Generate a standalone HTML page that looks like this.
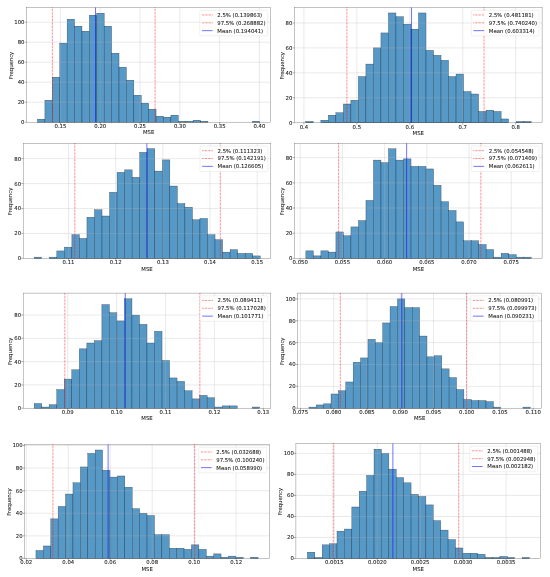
<!DOCTYPE html>
<html><head><meta charset="utf-8"><title>MSE bootstrap histograms</title>
<style>
html,body{margin:0;padding:0;background:#fff;}
svg{display:block;}
text{font-family:"DejaVu Sans","Liberation Sans",sans-serif;font-size:5.33px;fill:#1a1a1a;text-rendering:geometricPrecision;stroke:#1a1a1a;stroke-width:0.07px;}
</style></head><body>
<svg width="550" height="577" viewBox="0 0 550 577">
<defs><filter id="tb" x="0" y="0" width="550" height="577" filterUnits="userSpaceOnUse"><feGaussianBlur stdDeviation="0.35"/></filter></defs>
<rect width="550" height="577" fill="#fff"/>
<g filter="url(#tb)">
<g>
<g fill="#5799c7" stroke="#06121c" stroke-width="0.4" stroke-opacity="0.68">
<rect x="37.5" y="119.2" width="7.41" height="3"/>
<rect x="44.91" y="100.2" width="7.41" height="22"/>
<rect x="52.32" y="77.2" width="7.41" height="45"/>
<rect x="59.73" y="43.2" width="7.41" height="79"/>
<rect x="67.14" y="19.2" width="7.41" height="103"/>
<rect x="74.55" y="26.2" width="7.41" height="96"/>
<rect x="81.96" y="31.2" width="7.41" height="91"/>
<rect x="89.37" y="15.2" width="7.41" height="107"/>
<rect x="96.78" y="13.2" width="7.41" height="109"/>
<rect x="104.19" y="26.2" width="7.41" height="96"/>
<rect x="111.6" y="53.2" width="7.41" height="69"/>
<rect x="119.01" y="67.2" width="7.41" height="55"/>
<rect x="126.42" y="80.2" width="7.41" height="42"/>
<rect x="133.83" y="95.2" width="7.41" height="27"/>
<rect x="141.24" y="103.2" width="7.41" height="19"/>
<rect x="148.65" y="109.2" width="7.41" height="13"/>
<rect x="156.06" y="116.2" width="7.41" height="6"/>
<rect x="163.47" y="117.2" width="7.41" height="5"/>
<rect x="170.88" y="115.2" width="7.41" height="7"/>
<rect x="178.29" y="121.2" width="7.41" height="1"/>
<rect x="185.7" y="121.2" width="7.41" height="1"/>
<rect x="193.11" y="120.2" width="7.41" height="2"/>
<rect x="200.52" y="121.2" width="7.41" height="1"/>
<rect x="252.39" y="121.2" width="7.41" height="1"/>
</g>
<g stroke="#b0b0b0" stroke-width="0.45" stroke-opacity="0.6">
<line x1="60.45" y1="7.6" x2="60.45" y2="122.2"/>
<line x1="100.25" y1="7.6" x2="100.25" y2="122.2"/>
<line x1="140.05" y1="7.6" x2="140.05" y2="122.2"/>
<line x1="179.85" y1="7.6" x2="179.85" y2="122.2"/>
<line x1="219.65" y1="7.6" x2="219.65" y2="122.2"/>
<line x1="259.45" y1="7.6" x2="259.45" y2="122.2"/>
<line x1="26.6" y1="102.2" x2="270.6" y2="102.2"/>
<line x1="26.6" y1="82.2" x2="270.6" y2="82.2"/>
<line x1="26.6" y1="62.2" x2="270.6" y2="62.2"/>
<line x1="26.6" y1="42.2" x2="270.6" y2="42.2"/>
<line x1="26.6" y1="22.2" x2="270.6" y2="22.2"/>
</g>
<line x1="52.38" y1="7.6" x2="52.38" y2="122.2" stroke="#ff0000" stroke-width="0.72" stroke-dasharray="0.62 0.8" stroke-opacity="1"/>
<line x1="155.08" y1="7.6" x2="155.08" y2="122.2" stroke="#ff0000" stroke-width="0.72" stroke-dasharray="0.62 0.8" stroke-opacity="1"/>
<line x1="95.51" y1="7.6" x2="95.51" y2="122.2" stroke="#0000ff" stroke-width="1.0" stroke-opacity="0.55"/>
<rect x="26.6" y="7.6" width="244" height="114.6" fill="none" stroke="#000" stroke-opacity="0.55" stroke-width="0.43"/>
<g stroke="#333" stroke-width="0.4">
<line x1="60.45" y1="122.2" x2="60.45" y2="124.1"/>
<line x1="100.25" y1="122.2" x2="100.25" y2="124.1"/>
<line x1="140.05" y1="122.2" x2="140.05" y2="124.1"/>
<line x1="179.85" y1="122.2" x2="179.85" y2="124.1"/>
<line x1="219.65" y1="122.2" x2="219.65" y2="124.1"/>
<line x1="259.45" y1="122.2" x2="259.45" y2="124.1"/>
<line x1="24.7" y1="122.2" x2="26.6" y2="122.2"/>
<line x1="24.7" y1="102.2" x2="26.6" y2="102.2"/>
<line x1="24.7" y1="82.2" x2="26.6" y2="82.2"/>
<line x1="24.7" y1="62.2" x2="26.6" y2="62.2"/>
<line x1="24.7" y1="42.2" x2="26.6" y2="42.2"/>
<line x1="24.7" y1="22.2" x2="26.6" y2="22.2"/>
</g>
<rect x="199.75" y="10.35" width="67.9" height="25.5" rx="1" fill="#fff" fill-opacity="0.8" stroke="#ccc" stroke-opacity="0.7" stroke-width="0.4"/>
<line x1="201.95" y1="14.95" x2="212.65" y2="14.95" stroke="#ff0000" stroke-dasharray="0.62 0.8" stroke-width="0.72" stroke-opacity="1"/>
<line x1="201.95" y1="22.8" x2="212.65" y2="22.8" stroke="#ff0000" stroke-dasharray="0.62 0.8" stroke-width="0.72" stroke-opacity="1"/>
<line x1="201.95" y1="30.65" x2="212.65" y2="30.65" stroke="#0000ff" stroke-width="1.0" stroke-opacity="0.55"/>
</g>
<g>
<g fill="#5799c7" stroke="#06121c" stroke-width="0.4" stroke-opacity="0.68">
<rect x="305.8" y="121.45" width="7.51" height="1.25"/>
<rect x="320.83" y="120.21" width="7.51" height="2.49"/>
<rect x="328.34" y="115.22" width="7.51" height="7.48"/>
<rect x="335.85" y="112.72" width="7.51" height="9.98"/>
<rect x="343.37" y="104" width="7.51" height="18.71"/>
<rect x="350.88" y="100.25" width="7.51" height="22.45"/>
<rect x="358.39" y="76.56" width="7.51" height="46.14"/>
<rect x="365.9" y="64.09" width="7.51" height="58.61"/>
<rect x="373.42" y="47.88" width="7.51" height="74.82"/>
<rect x="380.93" y="32.92" width="7.51" height="89.78"/>
<rect x="388.44" y="12.96" width="7.51" height="109.74"/>
<rect x="395.96" y="16.7" width="7.51" height="106"/>
<rect x="403.47" y="24.19" width="7.51" height="98.51"/>
<rect x="410.98" y="29.17" width="7.51" height="93.53"/>
<rect x="418.5" y="12.96" width="7.51" height="109.74"/>
<rect x="426.01" y="50.37" width="7.51" height="72.33"/>
<rect x="433.52" y="55.36" width="7.51" height="67.34"/>
<rect x="441.03" y="60.35" width="7.51" height="62.35"/>
<rect x="448.55" y="76.56" width="7.51" height="46.14"/>
<rect x="456.06" y="74.07" width="7.51" height="48.63"/>
<rect x="463.57" y="91.53" width="7.51" height="31.18"/>
<rect x="471.09" y="94.02" width="7.51" height="28.68"/>
<rect x="478.6" y="111.48" width="7.51" height="11.22"/>
<rect x="486.11" y="110.23" width="7.51" height="12.47"/>
<rect x="493.62" y="111.48" width="7.51" height="11.22"/>
<rect x="501.14" y="118.96" width="7.51" height="3.74"/>
<rect x="516.16" y="121.45" width="7.51" height="1.25"/>
<rect x="523.68" y="121.45" width="7.51" height="1.25"/>
</g>
<g stroke="#b0b0b0" stroke-width="0.45" stroke-opacity="0.6">
<line x1="303.9" y1="7.6" x2="303.9" y2="122.7"/>
<line x1="356.85" y1="7.6" x2="356.85" y2="122.7"/>
<line x1="409.8" y1="7.6" x2="409.8" y2="122.7"/>
<line x1="462.75" y1="7.6" x2="462.75" y2="122.7"/>
<line x1="515.7" y1="7.6" x2="515.7" y2="122.7"/>
<line x1="294.5" y1="97.76" x2="542.1" y2="97.76"/>
<line x1="294.5" y1="72.82" x2="542.1" y2="72.82"/>
<line x1="294.5" y1="47.88" x2="542.1" y2="47.88"/>
<line x1="294.5" y1="22.94" x2="542.1" y2="22.94"/>
</g>
<line x1="346.89" y1="7.6" x2="346.89" y2="122.7" stroke="#ff0000" stroke-width="0.72" stroke-dasharray="0.62 0.8" stroke-opacity="1"/>
<line x1="484.06" y1="7.6" x2="484.06" y2="122.7" stroke="#ff0000" stroke-width="0.72" stroke-dasharray="0.62 0.8" stroke-opacity="1"/>
<line x1="411.55" y1="7.6" x2="411.55" y2="122.7" stroke="#0000ff" stroke-width="1.0" stroke-opacity="0.55"/>
<rect x="294.5" y="7.6" width="247.6" height="115.1" fill="none" stroke="#000" stroke-opacity="0.55" stroke-width="0.43"/>
<g stroke="#333" stroke-width="0.4">
<line x1="303.9" y1="122.7" x2="303.9" y2="124.6"/>
<line x1="356.85" y1="122.7" x2="356.85" y2="124.6"/>
<line x1="409.8" y1="122.7" x2="409.8" y2="124.6"/>
<line x1="462.75" y1="122.7" x2="462.75" y2="124.6"/>
<line x1="515.7" y1="122.7" x2="515.7" y2="124.6"/>
<line x1="292.6" y1="122.7" x2="294.5" y2="122.7"/>
<line x1="292.6" y1="97.76" x2="294.5" y2="97.76"/>
<line x1="292.6" y1="72.82" x2="294.5" y2="72.82"/>
<line x1="292.6" y1="47.88" x2="294.5" y2="47.88"/>
<line x1="292.6" y1="22.94" x2="294.5" y2="22.94"/>
</g>
<rect x="471.25" y="10.35" width="67.9" height="25.5" rx="1" fill="#fff" fill-opacity="0.8" stroke="#ccc" stroke-opacity="0.7" stroke-width="0.4"/>
<line x1="473.45" y1="14.95" x2="484.15" y2="14.95" stroke="#ff0000" stroke-dasharray="0.62 0.8" stroke-width="0.72" stroke-opacity="1"/>
<line x1="473.45" y1="22.8" x2="484.15" y2="22.8" stroke="#ff0000" stroke-dasharray="0.62 0.8" stroke-width="0.72" stroke-opacity="1"/>
<line x1="473.45" y1="30.65" x2="484.15" y2="30.65" stroke="#0000ff" stroke-width="1.0" stroke-opacity="0.55"/>
</g>
<g>
<g fill="#5799c7" stroke="#06121c" stroke-width="0.4" stroke-opacity="0.68">
<rect x="34.2" y="257.15" width="7.54" height="1.25"/>
<rect x="49.27" y="257.15" width="7.54" height="1.25"/>
<rect x="56.81" y="250.92" width="7.54" height="7.48"/>
<rect x="64.34" y="247.18" width="7.54" height="11.22"/>
<rect x="71.88" y="234.71" width="7.54" height="23.69"/>
<rect x="79.41" y="238.45" width="7.54" height="19.95"/>
<rect x="86.95" y="217.25" width="7.54" height="41.15"/>
<rect x="94.48" y="209.77" width="7.54" height="48.63"/>
<rect x="102.02" y="216" width="7.54" height="42.4"/>
<rect x="109.55" y="192.31" width="7.54" height="66.09"/>
<rect x="117.09" y="172.36" width="7.54" height="86.04"/>
<rect x="124.62" y="169.86" width="7.54" height="88.54"/>
<rect x="132.16" y="177.34" width="7.54" height="81.06"/>
<rect x="139.69" y="152.4" width="7.54" height="106"/>
<rect x="147.23" y="148.66" width="7.54" height="109.74"/>
<rect x="154.76" y="171.11" width="7.54" height="87.29"/>
<rect x="162.3" y="159.89" width="7.54" height="98.51"/>
<rect x="169.83" y="186.07" width="7.54" height="72.33"/>
<rect x="177.37" y="203.53" width="7.54" height="54.87"/>
<rect x="184.9" y="207.27" width="7.54" height="51.13"/>
<rect x="192.44" y="219.74" width="7.54" height="38.66"/>
<rect x="199.97" y="218.5" width="7.54" height="39.9"/>
<rect x="207.5" y="234.71" width="7.54" height="23.69"/>
<rect x="215.04" y="239.69" width="7.54" height="18.71"/>
<rect x="222.57" y="252.16" width="7.54" height="6.24"/>
<rect x="230.11" y="249.67" width="7.54" height="8.73"/>
<rect x="237.64" y="253.41" width="7.54" height="4.99"/>
<rect x="245.18" y="253.41" width="7.54" height="4.99"/>
<rect x="252.72" y="255.91" width="7.54" height="2.49"/>
</g>
<g stroke="#b0b0b0" stroke-width="0.45" stroke-opacity="0.6">
<line x1="68.55" y1="143.3" x2="68.55" y2="258.4"/>
<line x1="115.7" y1="143.3" x2="115.7" y2="258.4"/>
<line x1="162.85" y1="143.3" x2="162.85" y2="258.4"/>
<line x1="210" y1="143.3" x2="210" y2="258.4"/>
<line x1="257.15" y1="143.3" x2="257.15" y2="258.4"/>
<line x1="23.2" y1="233.46" x2="270.8" y2="233.46"/>
<line x1="23.2" y1="208.52" x2="270.8" y2="208.52"/>
<line x1="23.2" y1="183.58" x2="270.8" y2="183.58"/>
<line x1="23.2" y1="158.64" x2="270.8" y2="158.64"/>
</g>
<line x1="74.79" y1="143.3" x2="74.79" y2="258.4" stroke="#ff0000" stroke-width="0.72" stroke-dasharray="0.62 0.8" stroke-opacity="1"/>
<line x1="220.33" y1="143.3" x2="220.33" y2="258.4" stroke="#ff0000" stroke-width="0.72" stroke-dasharray="0.62 0.8" stroke-opacity="1"/>
<line x1="146.84" y1="143.3" x2="146.84" y2="258.4" stroke="#0000ff" stroke-width="1.0" stroke-opacity="0.55"/>
<rect x="23.2" y="143.3" width="247.6" height="115.1" fill="none" stroke="#000" stroke-opacity="0.55" stroke-width="0.43"/>
<g stroke="#333" stroke-width="0.4">
<line x1="68.55" y1="258.4" x2="68.55" y2="260.3"/>
<line x1="115.7" y1="258.4" x2="115.7" y2="260.3"/>
<line x1="162.85" y1="258.4" x2="162.85" y2="260.3"/>
<line x1="210" y1="258.4" x2="210" y2="260.3"/>
<line x1="257.15" y1="258.4" x2="257.15" y2="260.3"/>
<line x1="21.3" y1="258.4" x2="23.2" y2="258.4"/>
<line x1="21.3" y1="233.46" x2="23.2" y2="233.46"/>
<line x1="21.3" y1="208.52" x2="23.2" y2="208.52"/>
<line x1="21.3" y1="183.58" x2="23.2" y2="183.58"/>
<line x1="21.3" y1="158.64" x2="23.2" y2="158.64"/>
</g>
<rect x="199.95" y="146.05" width="67.9" height="25.5" rx="1" fill="#fff" fill-opacity="0.8" stroke="#ccc" stroke-opacity="0.7" stroke-width="0.4"/>
<line x1="202.15" y1="150.65" x2="212.85" y2="150.65" stroke="#ff0000" stroke-dasharray="0.62 0.8" stroke-width="0.72" stroke-opacity="1"/>
<line x1="202.15" y1="158.5" x2="212.85" y2="158.5" stroke="#ff0000" stroke-dasharray="0.62 0.8" stroke-width="0.72" stroke-opacity="1"/>
<line x1="202.15" y1="166.35" x2="212.85" y2="166.35" stroke="#0000ff" stroke-width="1.0" stroke-opacity="0.55"/>
</g>
<g>
<g fill="#5799c7" stroke="#06121c" stroke-width="0.4" stroke-opacity="0.68">
<rect x="305.85" y="250.84" width="7.51" height="7.56"/>
<rect x="313.36" y="255.88" width="7.51" height="2.52"/>
<rect x="320.88" y="250.84" width="7.51" height="7.56"/>
<rect x="328.39" y="252.1" width="7.51" height="6.3"/>
<rect x="335.9" y="231.94" width="7.51" height="26.46"/>
<rect x="343.42" y="235.72" width="7.51" height="22.68"/>
<rect x="350.93" y="226.9" width="7.51" height="31.5"/>
<rect x="358.44" y="220.6" width="7.51" height="37.8"/>
<rect x="365.95" y="200.44" width="7.51" height="57.96"/>
<rect x="373.47" y="160.12" width="7.51" height="98.28"/>
<rect x="380.98" y="162.64" width="7.51" height="95.76"/>
<rect x="388.49" y="148.78" width="7.51" height="109.62"/>
<rect x="396.01" y="160.12" width="7.51" height="98.28"/>
<rect x="403.52" y="158.86" width="7.51" height="99.54"/>
<rect x="411.03" y="166.42" width="7.51" height="91.98"/>
<rect x="418.55" y="166.42" width="7.51" height="91.98"/>
<rect x="426.06" y="168.94" width="7.51" height="89.46"/>
<rect x="433.57" y="185.32" width="7.51" height="73.08"/>
<rect x="441.08" y="201.7" width="7.51" height="56.7"/>
<rect x="448.6" y="210.52" width="7.51" height="47.88"/>
<rect x="456.11" y="221.86" width="7.51" height="36.54"/>
<rect x="463.62" y="240.76" width="7.51" height="17.64"/>
<rect x="471.14" y="240.76" width="7.51" height="17.64"/>
<rect x="478.65" y="244.54" width="7.51" height="13.86"/>
<rect x="486.16" y="249.58" width="7.51" height="8.82"/>
<rect x="493.68" y="257.14" width="7.51" height="1.26"/>
<rect x="501.19" y="253.36" width="7.51" height="5.04"/>
<rect x="508.7" y="254.62" width="7.51" height="3.78"/>
<rect x="516.21" y="257.14" width="7.51" height="1.26"/>
<rect x="523.73" y="257.14" width="7.51" height="1.26"/>
</g>
<g stroke="#b0b0b0" stroke-width="0.45" stroke-opacity="0.6">
<line x1="300.2" y1="143.3" x2="300.2" y2="258.4"/>
<line x1="342.4" y1="143.3" x2="342.4" y2="258.4"/>
<line x1="384.6" y1="143.3" x2="384.6" y2="258.4"/>
<line x1="426.8" y1="143.3" x2="426.8" y2="258.4"/>
<line x1="469" y1="143.3" x2="469" y2="258.4"/>
<line x1="511.2" y1="143.3" x2="511.2" y2="258.4"/>
<line x1="294.6" y1="233.2" x2="542.1" y2="233.2"/>
<line x1="294.6" y1="208" x2="542.1" y2="208"/>
<line x1="294.6" y1="182.8" x2="542.1" y2="182.8"/>
<line x1="294.6" y1="157.6" x2="542.1" y2="157.6"/>
</g>
<line x1="338.59" y1="143.3" x2="338.59" y2="258.4" stroke="#ff0000" stroke-width="0.72" stroke-dasharray="0.62 0.8" stroke-opacity="1"/>
<line x1="480.89" y1="143.3" x2="480.89" y2="258.4" stroke="#ff0000" stroke-width="0.72" stroke-dasharray="0.62 0.8" stroke-opacity="1"/>
<line x1="406.64" y1="143.3" x2="406.64" y2="258.4" stroke="#0000ff" stroke-width="1.0" stroke-opacity="0.55"/>
<rect x="294.6" y="143.3" width="247.5" height="115.1" fill="none" stroke="#000" stroke-opacity="0.55" stroke-width="0.43"/>
<g stroke="#333" stroke-width="0.4">
<line x1="300.2" y1="258.4" x2="300.2" y2="260.3"/>
<line x1="342.4" y1="258.4" x2="342.4" y2="260.3"/>
<line x1="384.6" y1="258.4" x2="384.6" y2="260.3"/>
<line x1="426.8" y1="258.4" x2="426.8" y2="260.3"/>
<line x1="469" y1="258.4" x2="469" y2="260.3"/>
<line x1="511.2" y1="258.4" x2="511.2" y2="260.3"/>
<line x1="292.7" y1="258.4" x2="294.6" y2="258.4"/>
<line x1="292.7" y1="233.2" x2="294.6" y2="233.2"/>
<line x1="292.7" y1="208" x2="294.6" y2="208"/>
<line x1="292.7" y1="182.8" x2="294.6" y2="182.8"/>
<line x1="292.7" y1="157.6" x2="294.6" y2="157.6"/>
</g>
<rect x="471.25" y="146.05" width="67.9" height="25.5" rx="1" fill="#fff" fill-opacity="0.8" stroke="#ccc" stroke-opacity="0.7" stroke-width="0.4"/>
<line x1="473.45" y1="150.65" x2="484.15" y2="150.65" stroke="#ff0000" stroke-dasharray="0.62 0.8" stroke-width="0.72" stroke-opacity="1"/>
<line x1="473.45" y1="158.5" x2="484.15" y2="158.5" stroke="#ff0000" stroke-dasharray="0.62 0.8" stroke-width="0.72" stroke-opacity="1"/>
<line x1="473.45" y1="166.35" x2="484.15" y2="166.35" stroke="#0000ff" stroke-width="1.0" stroke-opacity="0.55"/>
</g>
<g>
<g fill="#5799c7" stroke="#06121c" stroke-width="0.4" stroke-opacity="0.68">
<rect x="34.2" y="403.54" width="7.52" height="4.66"/>
<rect x="41.72" y="407.04" width="7.52" height="1.16"/>
<rect x="49.24" y="404.71" width="7.52" height="3.49"/>
<rect x="56.76" y="389.58" width="7.52" height="18.62"/>
<rect x="64.28" y="379.1" width="7.52" height="29.1"/>
<rect x="71.8" y="369.79" width="7.52" height="38.41"/>
<rect x="79.32" y="348.84" width="7.52" height="59.36"/>
<rect x="86.84" y="343.02" width="7.52" height="65.18"/>
<rect x="94.36" y="340.69" width="7.52" height="67.51"/>
<rect x="101.88" y="304.6" width="7.52" height="103.6"/>
<rect x="109.4" y="312.75" width="7.52" height="95.45"/>
<rect x="116.92" y="320.9" width="7.52" height="87.3"/>
<rect x="124.44" y="298.78" width="7.52" height="109.42"/>
<rect x="131.96" y="315.08" width="7.52" height="93.12"/>
<rect x="139.48" y="324.39" width="7.52" height="83.81"/>
<rect x="147" y="343.02" width="7.52" height="65.18"/>
<rect x="154.52" y="331.38" width="7.52" height="76.82"/>
<rect x="162.04" y="360.48" width="7.52" height="47.72"/>
<rect x="169.56" y="377.94" width="7.52" height="30.26"/>
<rect x="177.08" y="381.43" width="7.52" height="26.77"/>
<rect x="184.6" y="390.74" width="7.52" height="17.46"/>
<rect x="192.12" y="398.89" width="7.52" height="9.31"/>
<rect x="199.64" y="395.4" width="7.52" height="12.8"/>
<rect x="207.16" y="397.72" width="7.52" height="10.48"/>
<rect x="214.68" y="407.04" width="7.52" height="1.16"/>
<rect x="222.2" y="405.87" width="7.52" height="2.33"/>
<rect x="229.72" y="405.87" width="7.52" height="2.33"/>
<rect x="252.28" y="407.04" width="7.52" height="1.16"/>
</g>
<g stroke="#b0b0b0" stroke-width="0.45" stroke-opacity="0.6">
<line x1="67.7" y1="293.1" x2="67.7" y2="408.2"/>
<line x1="116.6" y1="293.1" x2="116.6" y2="408.2"/>
<line x1="165.5" y1="293.1" x2="165.5" y2="408.2"/>
<line x1="214.4" y1="293.1" x2="214.4" y2="408.2"/>
<line x1="263.3" y1="293.1" x2="263.3" y2="408.2"/>
<line x1="23.2" y1="384.92" x2="270.8" y2="384.92"/>
<line x1="23.2" y1="361.64" x2="270.8" y2="361.64"/>
<line x1="23.2" y1="338.36" x2="270.8" y2="338.36"/>
<line x1="23.2" y1="315.08" x2="270.8" y2="315.08"/>
</g>
<line x1="64.82" y1="293.1" x2="64.82" y2="408.2" stroke="#ff0000" stroke-width="0.72" stroke-dasharray="0.62 0.8" stroke-opacity="1"/>
<line x1="199.87" y1="293.1" x2="199.87" y2="408.2" stroke="#ff0000" stroke-width="0.72" stroke-dasharray="0.62 0.8" stroke-opacity="1"/>
<line x1="125.26" y1="293.1" x2="125.26" y2="408.2" stroke="#0000ff" stroke-width="1.0" stroke-opacity="0.55"/>
<rect x="23.2" y="293.1" width="247.6" height="115.1" fill="none" stroke="#000" stroke-opacity="0.55" stroke-width="0.43"/>
<g stroke="#333" stroke-width="0.4">
<line x1="67.7" y1="408.2" x2="67.7" y2="410.1"/>
<line x1="116.6" y1="408.2" x2="116.6" y2="410.1"/>
<line x1="165.5" y1="408.2" x2="165.5" y2="410.1"/>
<line x1="214.4" y1="408.2" x2="214.4" y2="410.1"/>
<line x1="263.3" y1="408.2" x2="263.3" y2="410.1"/>
<line x1="21.3" y1="408.2" x2="23.2" y2="408.2"/>
<line x1="21.3" y1="384.92" x2="23.2" y2="384.92"/>
<line x1="21.3" y1="361.64" x2="23.2" y2="361.64"/>
<line x1="21.3" y1="338.36" x2="23.2" y2="338.36"/>
<line x1="21.3" y1="315.08" x2="23.2" y2="315.08"/>
</g>
<rect x="199.95" y="295.85" width="67.9" height="25.5" rx="1" fill="#fff" fill-opacity="0.8" stroke="#ccc" stroke-opacity="0.7" stroke-width="0.4"/>
<line x1="202.15" y1="300.45" x2="212.85" y2="300.45" stroke="#ff0000" stroke-dasharray="0.62 0.8" stroke-width="0.72" stroke-opacity="1"/>
<line x1="202.15" y1="308.3" x2="212.85" y2="308.3" stroke="#ff0000" stroke-dasharray="0.62 0.8" stroke-width="0.72" stroke-opacity="1"/>
<line x1="202.15" y1="316.15" x2="212.85" y2="316.15" stroke="#0000ff" stroke-width="1.0" stroke-opacity="0.55"/>
</g>
<g>
<g fill="#5799c7" stroke="#06121c" stroke-width="0.4" stroke-opacity="0.68">
<rect x="308.9" y="407.11" width="7.38" height="1.09"/>
<rect x="316.28" y="404.92" width="7.38" height="3.28"/>
<rect x="323.66" y="403.83" width="7.38" height="4.37"/>
<rect x="331.04" y="393.99" width="7.38" height="14.21"/>
<rect x="338.42" y="390.71" width="7.38" height="17.49"/>
<rect x="345.8" y="381.97" width="7.38" height="26.23"/>
<rect x="353.18" y="362.29" width="7.38" height="45.91"/>
<rect x="360.56" y="357.92" width="7.38" height="50.28"/>
<rect x="367.94" y="339.34" width="7.38" height="68.86"/>
<rect x="375.32" y="342.62" width="7.38" height="65.58"/>
<rect x="382.7" y="322.95" width="7.38" height="85.25"/>
<rect x="390.08" y="306.55" width="7.38" height="101.65"/>
<rect x="397.46" y="298.9" width="7.38" height="109.3"/>
<rect x="404.84" y="307.64" width="7.38" height="100.56"/>
<rect x="412.22" y="307.64" width="7.38" height="100.56"/>
<rect x="419.6" y="336.06" width="7.38" height="72.14"/>
<rect x="426.98" y="356.83" width="7.38" height="51.37"/>
<rect x="434.36" y="355.74" width="7.38" height="52.46"/>
<rect x="441.74" y="368.85" width="7.38" height="39.35"/>
<rect x="449.12" y="377.6" width="7.38" height="30.6"/>
<rect x="456.5" y="389.62" width="7.38" height="18.58"/>
<rect x="463.88" y="399.46" width="7.38" height="8.74"/>
<rect x="471.26" y="400.55" width="7.38" height="7.65"/>
<rect x="478.64" y="400.55" width="7.38" height="7.65"/>
<rect x="486.02" y="401.64" width="7.38" height="6.56"/>
<rect x="493.4" y="407.11" width="7.38" height="1.09"/>
<rect x="522.92" y="407.11" width="7.38" height="1.09"/>
</g>
<g stroke="#b0b0b0" stroke-width="0.45" stroke-opacity="0.6">
<line x1="300.5" y1="293.1" x2="300.5" y2="408.2"/>
<line x1="333.75" y1="293.1" x2="333.75" y2="408.2"/>
<line x1="367" y1="293.1" x2="367" y2="408.2"/>
<line x1="400.25" y1="293.1" x2="400.25" y2="408.2"/>
<line x1="433.5" y1="293.1" x2="433.5" y2="408.2"/>
<line x1="466.75" y1="293.1" x2="466.75" y2="408.2"/>
<line x1="500" y1="293.1" x2="500" y2="408.2"/>
<line x1="533.25" y1="293.1" x2="533.25" y2="408.2"/>
<line x1="297.65" y1="386.34" x2="541.6" y2="386.34"/>
<line x1="297.65" y1="364.48" x2="541.6" y2="364.48"/>
<line x1="297.65" y1="342.62" x2="541.6" y2="342.62"/>
<line x1="297.65" y1="320.76" x2="541.6" y2="320.76"/>
<line x1="297.65" y1="298.9" x2="541.6" y2="298.9"/>
</g>
<line x1="340.34" y1="293.1" x2="340.34" y2="408.2" stroke="#ff0000" stroke-width="0.72" stroke-dasharray="0.62 0.8" stroke-opacity="1"/>
<line x1="466.57" y1="293.1" x2="466.57" y2="408.2" stroke="#ff0000" stroke-width="0.72" stroke-dasharray="0.62 0.8" stroke-opacity="1"/>
<line x1="401.79" y1="293.1" x2="401.79" y2="408.2" stroke="#0000ff" stroke-width="1.0" stroke-opacity="0.55"/>
<rect x="297.65" y="293.1" width="243.95" height="115.1" fill="none" stroke="#000" stroke-opacity="0.55" stroke-width="0.43"/>
<g stroke="#333" stroke-width="0.4">
<line x1="300.5" y1="408.2" x2="300.5" y2="410.1"/>
<line x1="333.75" y1="408.2" x2="333.75" y2="410.1"/>
<line x1="367" y1="408.2" x2="367" y2="410.1"/>
<line x1="400.25" y1="408.2" x2="400.25" y2="410.1"/>
<line x1="433.5" y1="408.2" x2="433.5" y2="410.1"/>
<line x1="466.75" y1="408.2" x2="466.75" y2="410.1"/>
<line x1="500" y1="408.2" x2="500" y2="410.1"/>
<line x1="533.25" y1="408.2" x2="533.25" y2="410.1"/>
<line x1="295.75" y1="408.2" x2="297.65" y2="408.2"/>
<line x1="295.75" y1="386.34" x2="297.65" y2="386.34"/>
<line x1="295.75" y1="364.48" x2="297.65" y2="364.48"/>
<line x1="295.75" y1="342.62" x2="297.65" y2="342.62"/>
<line x1="295.75" y1="320.76" x2="297.65" y2="320.76"/>
<line x1="295.75" y1="298.9" x2="297.65" y2="298.9"/>
</g>
<rect x="470.75" y="295.85" width="67.9" height="25.5" rx="1" fill="#fff" fill-opacity="0.8" stroke="#ccc" stroke-opacity="0.7" stroke-width="0.4"/>
<line x1="472.95" y1="300.45" x2="483.65" y2="300.45" stroke="#ff0000" stroke-dasharray="0.62 0.8" stroke-width="0.72" stroke-opacity="1"/>
<line x1="472.95" y1="308.3" x2="483.65" y2="308.3" stroke="#ff0000" stroke-dasharray="0.62 0.8" stroke-width="0.72" stroke-opacity="1"/>
<line x1="472.95" y1="316.15" x2="483.65" y2="316.15" stroke="#0000ff" stroke-width="1.0" stroke-opacity="0.55"/>
</g>
<g>
<g fill="#5799c7" stroke="#06121c" stroke-width="0.4" stroke-opacity="0.68">
<rect x="35.95" y="550.5" width="7.41" height="7.9"/>
<rect x="43.36" y="545.98" width="7.41" height="12.42"/>
<rect x="50.76" y="518.88" width="7.41" height="39.52"/>
<rect x="58.17" y="506.47" width="7.41" height="51.93"/>
<rect x="65.57" y="494.05" width="7.41" height="64.35"/>
<rect x="72.97" y="482.76" width="7.41" height="75.64"/>
<rect x="80.38" y="466.95" width="7.41" height="91.45"/>
<rect x="87.78" y="453.4" width="7.41" height="105"/>
<rect x="95.19" y="450.02" width="7.41" height="108.38"/>
<rect x="102.59" y="470.34" width="7.41" height="88.06"/>
<rect x="110" y="477.11" width="7.41" height="81.29"/>
<rect x="117.41" y="475.98" width="7.41" height="82.42"/>
<rect x="124.81" y="487.27" width="7.41" height="71.13"/>
<rect x="132.22" y="508.72" width="7.41" height="49.68"/>
<rect x="139.62" y="513.24" width="7.41" height="45.16"/>
<rect x="147.03" y="515.5" width="7.41" height="42.9"/>
<rect x="154.43" y="534.69" width="7.41" height="23.71"/>
<rect x="161.84" y="534.69" width="7.41" height="23.71"/>
<rect x="169.24" y="548.24" width="7.41" height="10.16"/>
<rect x="176.64" y="548.24" width="7.41" height="10.16"/>
<rect x="184.05" y="549.37" width="7.41" height="9.03"/>
<rect x="191.45" y="544.85" width="7.41" height="13.55"/>
<rect x="198.86" y="549.37" width="7.41" height="9.03"/>
<rect x="206.26" y="556.14" width="7.41" height="2.26"/>
<rect x="213.67" y="553.88" width="7.41" height="4.52"/>
<rect x="221.07" y="557.27" width="7.41" height="1.13"/>
<rect x="228.48" y="556.14" width="7.41" height="2.26"/>
<rect x="235.88" y="557.27" width="7.41" height="1.13"/>
<rect x="250.69" y="557.27" width="7.41" height="1.13"/>
</g>
<g stroke="#b0b0b0" stroke-width="0.45" stroke-opacity="0.6">
<line x1="26.3" y1="444.6" x2="26.3" y2="558.4"/>
<line x1="68.26" y1="444.6" x2="68.26" y2="558.4"/>
<line x1="110.22" y1="444.6" x2="110.22" y2="558.4"/>
<line x1="152.18" y1="444.6" x2="152.18" y2="558.4"/>
<line x1="194.14" y1="444.6" x2="194.14" y2="558.4"/>
<line x1="236.1" y1="444.6" x2="236.1" y2="558.4"/>
<line x1="24.7" y1="535.82" x2="269.6" y2="535.82"/>
<line x1="24.7" y1="513.24" x2="269.6" y2="513.24"/>
<line x1="24.7" y1="490.66" x2="269.6" y2="490.66"/>
<line x1="24.7" y1="468.08" x2="269.6" y2="468.08"/>
<line x1="24.7" y1="445.5" x2="269.6" y2="445.5"/>
</g>
<line x1="52.92" y1="444.6" x2="52.92" y2="558.4" stroke="#ff0000" stroke-width="0.72" stroke-dasharray="0.62 0.8" stroke-opacity="1"/>
<line x1="194.64" y1="444.6" x2="194.64" y2="558.4" stroke="#ff0000" stroke-width="0.72" stroke-dasharray="0.62 0.8" stroke-opacity="1"/>
<line x1="108.1" y1="444.6" x2="108.1" y2="558.4" stroke="#0000ff" stroke-width="1.0" stroke-opacity="0.55"/>
<rect x="24.7" y="444.6" width="244.9" height="113.8" fill="none" stroke="#000" stroke-opacity="0.55" stroke-width="0.43"/>
<g stroke="#333" stroke-width="0.4">
<line x1="26.3" y1="558.4" x2="26.3" y2="560.3"/>
<line x1="68.26" y1="558.4" x2="68.26" y2="560.3"/>
<line x1="110.22" y1="558.4" x2="110.22" y2="560.3"/>
<line x1="152.18" y1="558.4" x2="152.18" y2="560.3"/>
<line x1="194.14" y1="558.4" x2="194.14" y2="560.3"/>
<line x1="236.1" y1="558.4" x2="236.1" y2="560.3"/>
<line x1="22.8" y1="558.4" x2="24.7" y2="558.4"/>
<line x1="22.8" y1="535.82" x2="24.7" y2="535.82"/>
<line x1="22.8" y1="513.24" x2="24.7" y2="513.24"/>
<line x1="22.8" y1="490.66" x2="24.7" y2="490.66"/>
<line x1="22.8" y1="468.08" x2="24.7" y2="468.08"/>
<line x1="22.8" y1="445.5" x2="24.7" y2="445.5"/>
</g>
<rect x="198.75" y="447.35" width="67.9" height="25.5" rx="1" fill="#fff" fill-opacity="0.8" stroke="#ccc" stroke-opacity="0.7" stroke-width="0.4"/>
<line x1="200.95" y1="451.95" x2="211.65" y2="451.95" stroke="#ff0000" stroke-dasharray="0.62 0.8" stroke-width="0.72" stroke-opacity="1"/>
<line x1="200.95" y1="459.8" x2="211.65" y2="459.8" stroke="#ff0000" stroke-dasharray="0.62 0.8" stroke-width="0.72" stroke-opacity="1"/>
<line x1="200.95" y1="467.65" x2="211.65" y2="467.65" stroke="#0000ff" stroke-width="1.0" stroke-opacity="0.55"/>
</g>
<g>
<g fill="#5799c7" stroke="#06121c" stroke-width="0.4" stroke-opacity="0.68">
<rect x="307.4" y="552.19" width="7.41" height="6.31"/>
<rect x="314.8" y="557.45" width="7.41" height="1.05"/>
<rect x="322.21" y="544.84" width="7.41" height="13.66"/>
<rect x="329.61" y="543.79" width="7.41" height="14.71"/>
<rect x="337.02" y="531.17" width="7.41" height="27.33"/>
<rect x="344.42" y="529.07" width="7.41" height="29.43"/>
<rect x="351.83" y="507" width="7.41" height="51.5"/>
<rect x="359.23" y="491.24" width="7.41" height="67.26"/>
<rect x="366.64" y="475.47" width="7.41" height="83.03"/>
<rect x="374.04" y="449.2" width="7.41" height="109.3"/>
<rect x="381.45" y="453.4" width="7.41" height="105.1"/>
<rect x="388.85" y="469.17" width="7.41" height="89.33"/>
<rect x="396.26" y="477.57" width="7.41" height="80.93"/>
<rect x="403.66" y="482.83" width="7.41" height="75.67"/>
<rect x="411.07" y="494.39" width="7.41" height="64.11"/>
<rect x="418.47" y="496.49" width="7.41" height="62.01"/>
<rect x="425.88" y="504.9" width="7.41" height="53.6"/>
<rect x="433.28" y="520.66" width="7.41" height="37.84"/>
<rect x="440.69" y="530.12" width="7.41" height="28.38"/>
<rect x="448.09" y="539.58" width="7.41" height="18.92"/>
<rect x="455.5" y="547.99" width="7.41" height="10.51"/>
<rect x="462.9" y="553.25" width="7.41" height="5.25"/>
<rect x="470.31" y="553.25" width="7.41" height="5.25"/>
<rect x="477.71" y="554.3" width="7.41" height="4.2"/>
<rect x="485.12" y="557.45" width="7.41" height="1.05"/>
<rect x="492.52" y="557.45" width="7.41" height="1.05"/>
<rect x="499.93" y="556.4" width="7.41" height="2.1"/>
<rect x="507.33" y="557.45" width="7.41" height="1.05"/>
<rect x="522.14" y="557.45" width="7.41" height="1.05"/>
</g>
<g stroke="#b0b0b0" stroke-width="0.45" stroke-opacity="0.6">
<line x1="334.3" y1="443.45" x2="334.3" y2="558.5"/>
<line x1="377.25" y1="443.45" x2="377.25" y2="558.5"/>
<line x1="420.2" y1="443.45" x2="420.2" y2="558.5"/>
<line x1="463.15" y1="443.45" x2="463.15" y2="558.5"/>
<line x1="506.1" y1="443.45" x2="506.1" y2="558.5"/>
<line x1="295.9" y1="537.48" x2="540.6" y2="537.48"/>
<line x1="295.9" y1="516.46" x2="540.6" y2="516.46"/>
<line x1="295.9" y1="495.44" x2="540.6" y2="495.44"/>
<line x1="295.9" y1="474.42" x2="540.6" y2="474.42"/>
<line x1="295.9" y1="453.4" x2="540.6" y2="453.4"/>
</g>
<line x1="333.27" y1="443.45" x2="333.27" y2="558.5" stroke="#ff0000" stroke-width="0.72" stroke-dasharray="0.62 0.8" stroke-opacity="1"/>
<line x1="458.68" y1="443.45" x2="458.68" y2="558.5" stroke="#ff0000" stroke-width="0.72" stroke-dasharray="0.62 0.8" stroke-opacity="1"/>
<line x1="392.88" y1="443.45" x2="392.88" y2="558.5" stroke="#0000ff" stroke-width="1.0" stroke-opacity="0.55"/>
<rect x="295.9" y="443.45" width="244.7" height="115.05" fill="none" stroke="#000" stroke-opacity="0.55" stroke-width="0.43"/>
<g stroke="#333" stroke-width="0.4">
<line x1="334.3" y1="558.5" x2="334.3" y2="560.4"/>
<line x1="377.25" y1="558.5" x2="377.25" y2="560.4"/>
<line x1="420.2" y1="558.5" x2="420.2" y2="560.4"/>
<line x1="463.15" y1="558.5" x2="463.15" y2="560.4"/>
<line x1="506.1" y1="558.5" x2="506.1" y2="560.4"/>
<line x1="294" y1="558.5" x2="295.9" y2="558.5"/>
<line x1="294" y1="537.48" x2="295.9" y2="537.48"/>
<line x1="294" y1="516.46" x2="295.9" y2="516.46"/>
<line x1="294" y1="495.44" x2="295.9" y2="495.44"/>
<line x1="294" y1="474.42" x2="295.9" y2="474.42"/>
<line x1="294" y1="453.4" x2="295.9" y2="453.4"/>
</g>
<rect x="469.75" y="446.2" width="67.9" height="25.5" rx="1" fill="#fff" fill-opacity="0.8" stroke="#ccc" stroke-opacity="0.7" stroke-width="0.4"/>
<line x1="471.95" y1="450.8" x2="482.65" y2="450.8" stroke="#ff0000" stroke-dasharray="0.62 0.8" stroke-width="0.72" stroke-opacity="1"/>
<line x1="471.95" y1="458.65" x2="482.65" y2="458.65" stroke="#ff0000" stroke-dasharray="0.62 0.8" stroke-width="0.72" stroke-opacity="1"/>
<line x1="471.95" y1="466.5" x2="482.65" y2="466.5" stroke="#0000ff" stroke-width="1.0" stroke-opacity="0.55"/>
</g>
<g text-anchor="middle">
<text x="60.45" y="128">0.15</text>
<text x="100.25" y="128">0.20</text>
<text x="140.05" y="128">0.25</text>
<text x="179.85" y="128">0.30</text>
<text x="219.65" y="128">0.35</text>
<text x="259.45" y="128">0.40</text>
<text x="148.6" y="134.4">MSE</text>
</g>
<g text-anchor="end">
<text x="24.5" y="124.15">0</text>
<text x="24.5" y="104.15">20</text>
<text x="24.5" y="84.15">40</text>
<text x="24.5" y="64.15">60</text>
<text x="24.5" y="44.15">80</text>
<text x="24.5" y="24.15">100</text>
</g>
<text text-anchor="middle" transform="translate(12.8 65.5) rotate(-90)">Frequency</text>
<text x="217.35" y="16.85">2.5% (0.139863)</text>
<text x="217.35" y="24.7">97.5% (0.268882)</text>
<text x="217.35" y="32.55">Mean (0.194041)</text>
<g text-anchor="middle">
<text x="303.9" y="128.5">0.4</text>
<text x="356.85" y="128.5">0.5</text>
<text x="409.8" y="128.5">0.6</text>
<text x="462.75" y="128.5">0.7</text>
<text x="515.7" y="128.5">0.8</text>
<text x="418.3" y="134.9">MSE</text>
</g>
<g text-anchor="end">
<text x="292.4" y="124.65">0</text>
<text x="292.4" y="99.71">20</text>
<text x="292.4" y="74.77">40</text>
<text x="292.4" y="49.83">60</text>
<text x="292.4" y="24.89">80</text>
</g>
<text text-anchor="middle" transform="translate(283.7 65.75) rotate(-90)">Frequency</text>
<text x="488.85" y="16.85">2.5% (0.481181)</text>
<text x="488.85" y="24.7">97.5% (0.740240)</text>
<text x="488.85" y="32.55">Mean (0.603314)</text>
<g text-anchor="middle">
<text x="68.55" y="264.2">0.11</text>
<text x="115.7" y="264.2">0.12</text>
<text x="162.85" y="264.2">0.13</text>
<text x="210" y="264.2">0.14</text>
<text x="257.15" y="264.2">0.15</text>
<text x="147" y="270.6">MSE</text>
</g>
<g text-anchor="end">
<text x="21.1" y="260.35">0</text>
<text x="21.1" y="235.41">20</text>
<text x="21.1" y="210.47">40</text>
<text x="21.1" y="185.53">60</text>
<text x="21.1" y="160.59">80</text>
</g>
<text text-anchor="middle" transform="translate(12.4 201.45) rotate(-90)">Frequency</text>
<text x="217.55" y="152.55">2.5% (0.111323)</text>
<text x="217.55" y="160.4">97.5% (0.142191)</text>
<text x="217.55" y="168.25">Mean (0.126605)</text>
<g text-anchor="middle">
<text x="300.2" y="264.2">0.050</text>
<text x="342.4" y="264.2">0.055</text>
<text x="384.6" y="264.2">0.060</text>
<text x="426.8" y="264.2">0.065</text>
<text x="469" y="264.2">0.070</text>
<text x="511.2" y="264.2">0.075</text>
<text x="418.35" y="270.6">MSE</text>
</g>
<g text-anchor="end">
<text x="292.5" y="260.35">0</text>
<text x="292.5" y="235.15">20</text>
<text x="292.5" y="209.95">40</text>
<text x="292.5" y="184.75">60</text>
<text x="292.5" y="159.55">80</text>
</g>
<text text-anchor="middle" transform="translate(283.8 201.45) rotate(-90)">Frequency</text>
<text x="488.85" y="152.55">2.5% (0.054548)</text>
<text x="488.85" y="160.4">97.5% (0.071409)</text>
<text x="488.85" y="168.25">Mean (0.062611)</text>
<g text-anchor="middle">
<text x="67.7" y="414">0.09</text>
<text x="116.6" y="414">0.10</text>
<text x="165.5" y="414">0.11</text>
<text x="214.4" y="414">0.12</text>
<text x="263.3" y="414">0.13</text>
<text x="147" y="420.4">MSE</text>
</g>
<g text-anchor="end">
<text x="21.1" y="410.15">0</text>
<text x="21.1" y="386.87">20</text>
<text x="21.1" y="363.59">40</text>
<text x="21.1" y="340.31">60</text>
<text x="21.1" y="317.03">80</text>
</g>
<text text-anchor="middle" transform="translate(12.4 351.25) rotate(-90)">Frequency</text>
<text x="217.55" y="302.35">2.5% (0.089411)</text>
<text x="217.55" y="310.2">97.5% (0.117028)</text>
<text x="217.55" y="318.05">Mean (0.101771)</text>
<g text-anchor="middle">
<text x="300.5" y="414">0.075</text>
<text x="333.75" y="414">0.080</text>
<text x="367" y="414">0.085</text>
<text x="400.25" y="414">0.090</text>
<text x="433.5" y="414">0.095</text>
<text x="466.75" y="414">0.100</text>
<text x="500" y="414">0.105</text>
<text x="533.25" y="414">0.110</text>
<text x="419.62" y="420.4">MSE</text>
</g>
<g text-anchor="end">
<text x="295.55" y="410.15">0</text>
<text x="295.55" y="388.29">20</text>
<text x="295.55" y="366.43">40</text>
<text x="295.55" y="344.57">60</text>
<text x="295.55" y="322.71">80</text>
<text x="295.55" y="300.85">100</text>
</g>
<text text-anchor="middle" transform="translate(283.85 351.25) rotate(-90)">Frequency</text>
<text x="488.35" y="302.35">2.5% (0.080991)</text>
<text x="488.35" y="310.2">97.5% (0.099973)</text>
<text x="488.35" y="318.05">Mean (0.090231)</text>
<g text-anchor="middle">
<text x="26.3" y="564.2">0.02</text>
<text x="68.26" y="564.2">0.04</text>
<text x="110.22" y="564.2">0.06</text>
<text x="152.18" y="564.2">0.08</text>
<text x="194.14" y="564.2">0.10</text>
<text x="236.1" y="564.2">0.12</text>
<text x="147.15" y="570.6">MSE</text>
</g>
<g text-anchor="end">
<text x="22.6" y="560.35">0</text>
<text x="22.6" y="537.77">20</text>
<text x="22.6" y="515.19">40</text>
<text x="22.6" y="492.61">60</text>
<text x="22.6" y="470.03">80</text>
<text x="22.6" y="447.45">100</text>
</g>
<text text-anchor="middle" transform="translate(10.9 502.1) rotate(-90)">Frequency</text>
<text x="216.35" y="453.85">2.5% (0.032688)</text>
<text x="216.35" y="461.7">97.5% (0.100240)</text>
<text x="216.35" y="469.55">Mean (0.058990)</text>
<g text-anchor="middle">
<text x="334.3" y="564.3">0.0015</text>
<text x="377.25" y="564.3">0.0020</text>
<text x="420.2" y="564.3">0.0025</text>
<text x="463.15" y="564.3">0.0030</text>
<text x="506.1" y="564.3">0.0035</text>
<text x="418.25" y="570.7">MSE</text>
</g>
<g text-anchor="end">
<text x="293.8" y="560.45">0</text>
<text x="293.8" y="539.43">20</text>
<text x="293.8" y="518.41">40</text>
<text x="293.8" y="497.39">60</text>
<text x="293.8" y="476.37">80</text>
<text x="293.8" y="455.35">100</text>
</g>
<text text-anchor="middle" transform="translate(282.1 501.58) rotate(-90)">Frequency</text>
<text x="487.35" y="452.7">2.5% (0.001488)</text>
<text x="487.35" y="460.55">97.5% (0.002948)</text>
<text x="487.35" y="468.4">Mean (0.002182)</text>
</g>
</svg>
</body></html>
